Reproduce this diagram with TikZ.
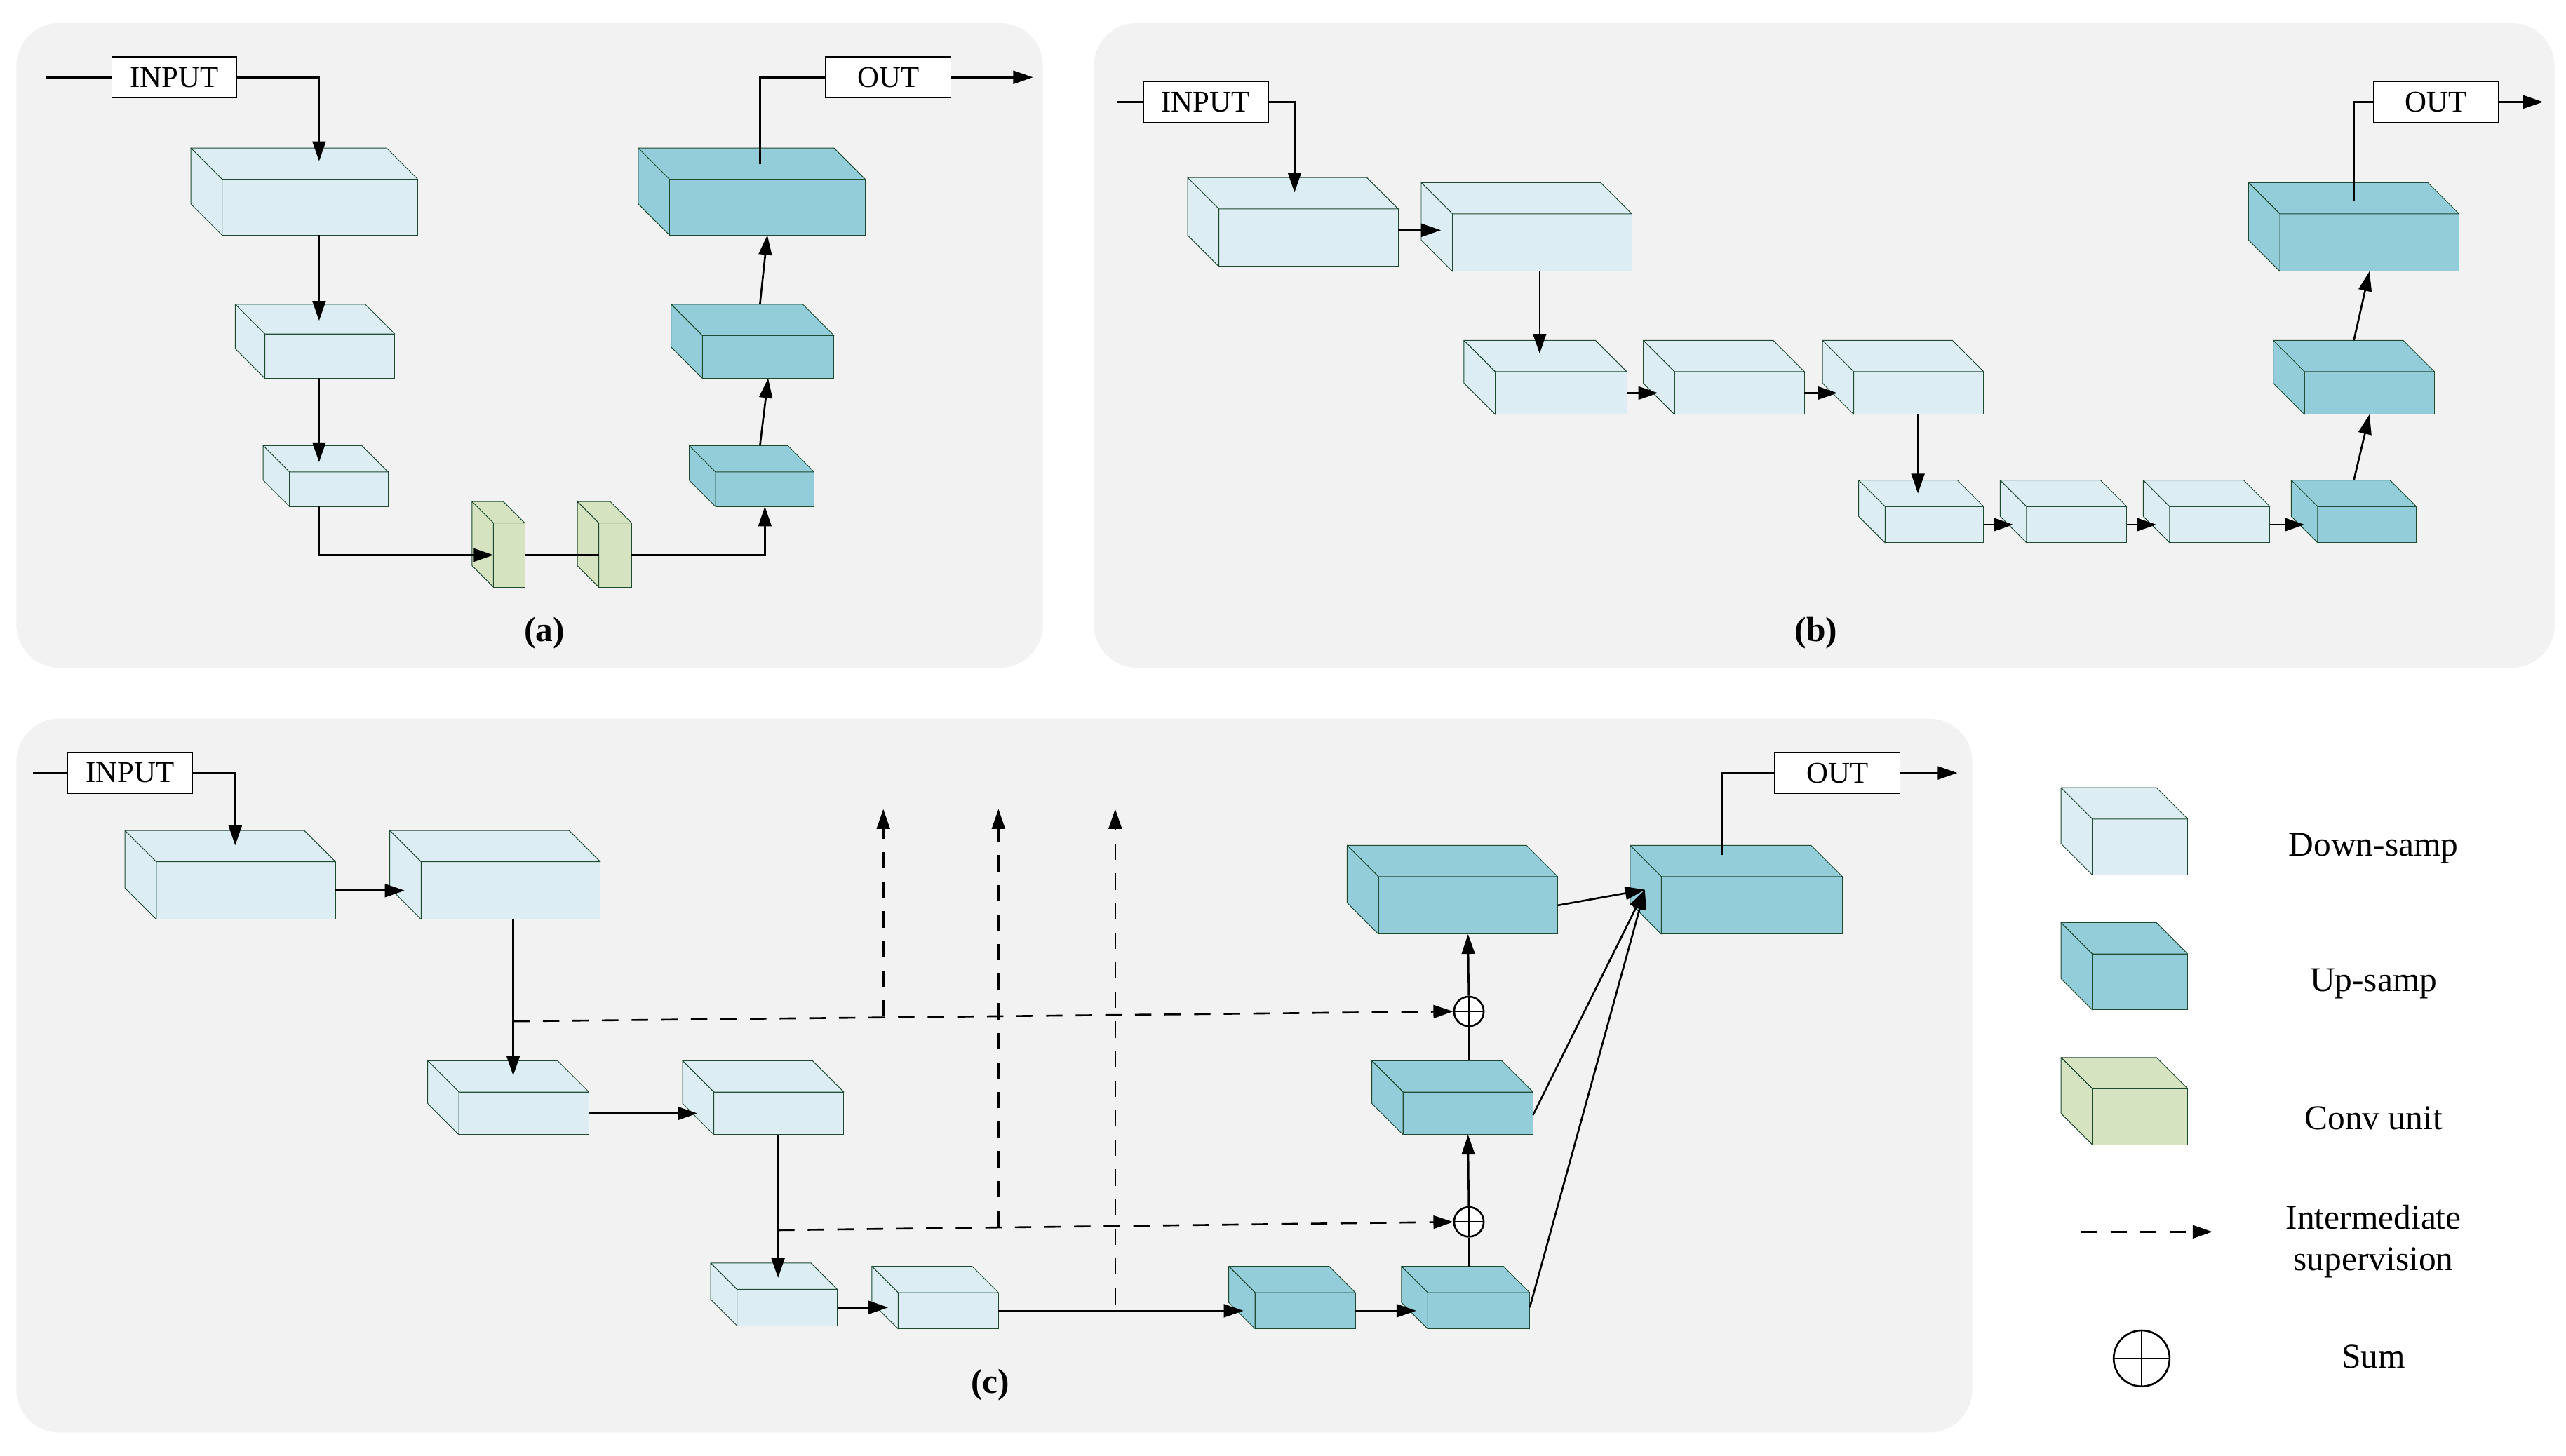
\documentclass[tikz,border=0pt]{standalone}
\usepackage{fontspec}
\setmainfont{Liberation Serif}
\usetikzlibrary{arrows.meta}
\definecolor{dn}{HTML}{DCEEF3}
\definecolor{up}{HTML}{92CDD9}
\definecolor{cv}{HTML}{D5E3C0}
\definecolor{edge}{HTML}{1E4A30}
\definecolor{panel}{HTML}{F2F2F2}
\newcommand\cub[7]{%
\pgfmathsetmacro\cw{(#4-#2-#6)*0.05}%
\pgfmathsetmacro\ch{(#5-#3-#6)*0.05}%
\node[draw=edge,line width=0.6pt,fill=#7,inner sep=0pt,outer sep=0pt,minimum width=\cw cm,minimum height=\ch cm,anchor=north west] (#1) at (#2+#6,#3+#6) {};
\filldraw[draw=edge,line width=0.6pt,fill=#7,line join=round] (#1.north west) -- ++(-#6,-#6) -- ++(#4-#2-#6,0) -- (#1.north east) -- cycle;
\filldraw[draw=edge,line width=0.6pt,fill=#7,line join=round] (#1.north west) -- ++(-#6,-#6) -- ++(0,#5-#3-#6) -- (#1.south west) -- cycle;
}
\tikzset{
 x=0.05cm,y=-0.05cm,
 lab/.style={draw,fill=white,line width=1pt,minimum width=3.8cm,minimum height=1.25cm,inner sep=0pt,font=\fontsize{26}{28}\selectfont},
 ar/.style={line width=1.6pt,-{Triangle[length=0.6cm,width=0.4cm]}},
 ln/.style={line width=1.6pt},
 da/.style={line width=1.6pt,dash pattern=on 0.5cm off 0.4cm,-{Triangle[length=0.6cm,width=0.4cm]}},
 sumn/.style={circle,draw,fill=white,line width=1.6pt,minimum size=0.9cm,inner sep=0pt,path picture={\draw[line width=1.4pt] (path picture bounding box.north)--(path picture bounding box.south) (path picture bounding box.west)--(path picture bounding box.east);}},
 pan/.style={fill=panel,rounded corners=1.3cm},
 pcap/.style={font=\bfseries\fontsize{30}{32}\selectfont},
 leg/.style={font=\fontsize{30}{36}\selectfont,align=center}
}
\begin{document}
\begin{tikzpicture}
\useasboundingbox (0,0) rectangle (1560,885);
\fill[white] (0,0) rectangle (1560,885);
\fill[pan] (10,14) rectangle (634,406);
\fill[pan] (665,14) rectangle (1553,406);
\fill[pan] (10,437) rectangle (1199,871);
% ---------- (a)
\node[lab] (ainp) at (106,47) {INPUT};
\coordinate (a0) at (28,47);
\draw[ln] (a0) -- (ainp);
\cub{A1}{116}{90}{254}{143}{19}{dn}
\cub{A2}{143}{185}{240}{230}{18}{dn}
\cub{A3}{160}{271}{236}{308}{16}{dn}
\cub{K1}{287}{305}{319}{357}{13}{cv}
\cub{K2}{351}{305}{384}{357}{13}{cv}
\cub{A4}{419}{271}{495}{308}{16}{up}
\cub{A5}{408}{185}{507}{230}{19}{up}
\cub{A6}{388}{90}{526}{143}{19}{up}
\node[lab] (aout) at (540,47) {OUT};
\coordinate (a9) at (628,47);
\draw[ar] (ainp.east) -| (194,98);
\draw[ar] (194,143) -- (194,195);
\draw[ar] (194,230) -- (194,281);
\draw[ar] (194,308) |- (K1.west);
\draw[ln] (K1.east) -- (K2.west|-K1.east);
\draw[ar] (K2.east) -| (A4.south);
\draw[ar] (462,271) -- (A5.south);
\draw[ar] (462,185) -- (A6.south);
\draw[ln] (462,100) |- (aout.west);
\draw[ar] (aout.east) -- (a9);
\node[pcap] at (331,385) {(a)};
% ---------- (b)
\node[lab] (binp) at (733,62) {INPUT};
\coordinate (b0) at (679,62);
\draw[ln] (b0) -- (binp);
\cub{B1}{722}{108}{850}{162}{19}{dn}
\cub{B2}{864}{111}{992}{165}{19}{dn}
\cub{B3}{890}{207}{989}{252}{19}{dn}
\cub{B4}{999}{207}{1097}{252}{19}{dn}
\cub{B5}{1108}{207}{1206}{252}{19}{dn}
\cub{B6}{1130}{292}{1206}{330}{16}{dn}
\cub{B7}{1216}{292}{1293}{330}{16}{dn}
\cub{B8}{1303}{292}{1380}{330}{16}{dn}
\cub{B9}{1393}{292}{1469}{330}{16}{up}
\cub{B10}{1382}{207}{1480}{252}{19}{up}
\cub{B11}{1367}{111}{1495}{165}{19}{up}
\node[lab] (bout) at (1481,62) {OUT};
\coordinate (b9) at (1546,62);
\draw[ar] (binp.east) -| (787,117);
\draw[ar] (850,140) -- (876,140);
\draw[ar] (936,165) -- (936,215);
\draw[ar] (B3.east) -- (1008,0 |- B3.east);
\draw[ar] (B4.east) -- (1117,0 |- B4.east);
\draw[ar] (1166,252) -- (1166,300);
\draw[ar] (B6.east) -- (1224,0 |- B6.east);
\draw[ar] (B7.east) -- (1311,0 |- B7.east);
\draw[ar] (B8.east) -- (1401,0 |- B8.east);
\draw[ar] (1431,292) -- (B10.south);
\draw[ar] (1431,207) -- (B11.south);
\draw[ln] (1431,122) |- (bout.west);
\draw[ar] (bout.east) -- (b9);
\node[pcap] at (1104,385) {(b)};
% ---------- (c)
\node[lab] (cinp) at (79,470) {INPUT};
\coordinate (c0) at (20,470);
\draw[ln] (c0) -- (cinp);
\cub{C1}{76}{505}{204}{559}{19}{dn}
\cub{C2}{237}{505}{365}{559}{19}{dn}
\cub{C3}{260}{645}{358}{690}{19}{dn}
\cub{C4}{415}{645}{513}{690}{19}{dn}
\cub{C5}{432}{768}{509}{806}{16}{dn}
\cub{C6}{530}{770}{607}{808}{16}{dn}
\cub{C7}{747}{770}{824}{808}{16}{up}
\cub{C8}{852}{770}{930}{808}{16}{up}
\cub{C9}{834}{645}{932}{690}{19}{up}
\cub{C10}{819}{514}{947}{568}{19}{up}
\cub{C11}{991}{514}{1120}{568}{19}{up}
\node[sumn] (S1) at (893,615) {};
\node[sumn] (S2) at (893,743) {};
\node[lab] (cout) at (1117,470) {OUT};
\coordinate (c9) at (1190,470);
\coordinate (u1) at (537,492);
\coordinate (u2) at (607,492);
\coordinate (u3) at (678,492);
\coordinate (cj) at (1000,541);
\draw[ar] (cinp.east) -| (143,514);
\draw[ar] (C1.east) -- (246,0 |- C1.east);
\draw[ar] (312,559) -- (312,654);
\draw[ar] (C3.east) -- (424,0 |- C3.east);
\draw[ar] (473,690) -- (473,777);
\draw[ar] (C5.east) -- (540,0 |- C5.east);
\draw[ar] (C6.east) -- (756,0 |- C6.east);
\draw[ar] (C7.east) -- (861,0 |- C7.east);
\draw[ln] (893,770) -- (S2);
\draw[ar] (S2) -- (C9.south);
\draw[ln] (893,645) -- (S1);
\draw[ar] (S1) -- (C10.south);
\draw[ar] (C10.east) -- (cj);
\draw[ar] (932,678) -- (cj);
\draw[ar] (930,795) -- (cj);
\draw[ln] (1047,520) |- (cout.west);
\draw[ar] (cout.east) -- (c9);
\draw[da] (312,621) -- (S1.west);
\draw[da] (537,618) -- (u1);
\draw[da] (473,748) -- (S2.west);
\draw[da] (607,746) -- (u2);
\draw[da] (678,793) -- (u3);
\node[pcap] at (602,842) {(c)};
% ---------- legend
\cub{L1}{1253}{479}{1330}{532}{19}{dn}
\cub{L2}{1253}{561}{1330}{614}{19}{up}
\cub{L3}{1253}{643}{1330}{696}{19}{cv}
\node[leg] at (1443,516) {Down-samp};
\node[leg] at (1443,598) {Up-samp};
\node[leg] at (1443,680) {Conv unit};
\coordinate (l1) at (1265,749);
\coordinate (l2) at (1345,749);
\draw[da] (l1) -- (l2);
\node[leg] at (1443,755) {Intermediate\\supervision};
\node[sumn,minimum size=1.7cm] (LS) at (1302,826) {};
\node[leg] at (1443,825) {Sum};
\end{tikzpicture}
\end{document}
